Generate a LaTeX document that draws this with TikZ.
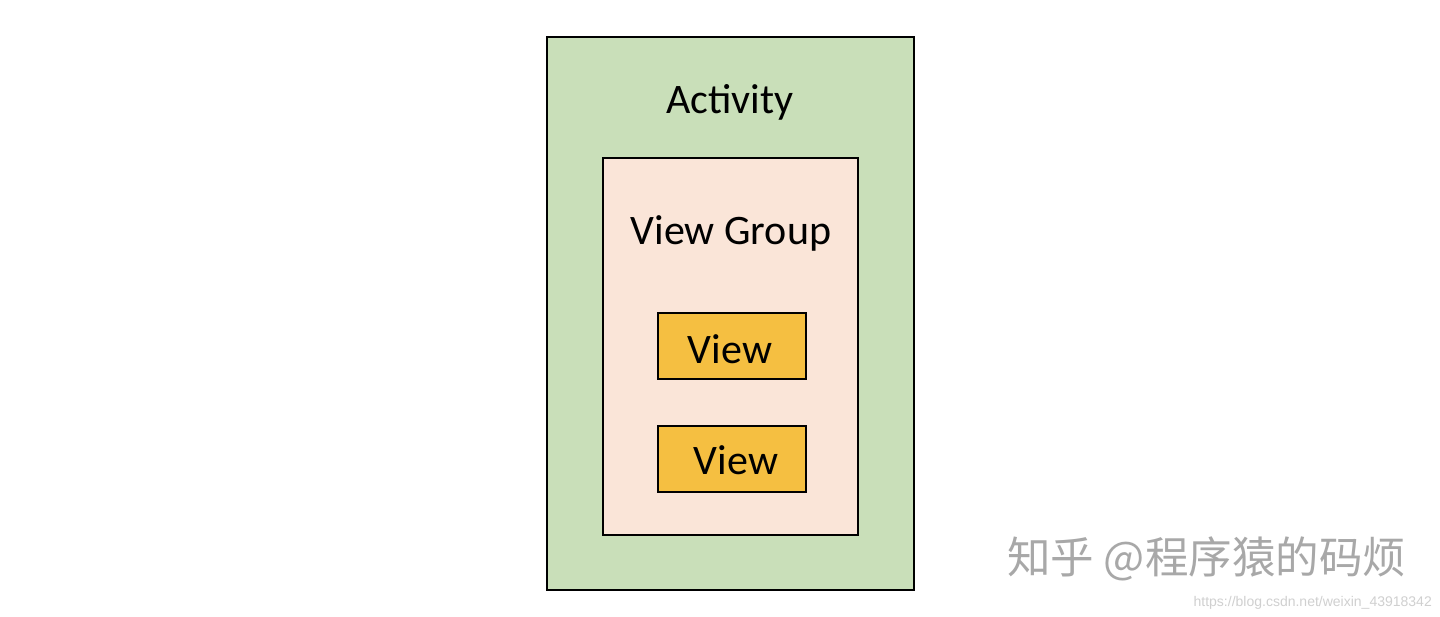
\documentclass[tikz,border=0pt]{standalone}
\usepackage{fontspec}
\setmainfont{Carlito}
\newfontfamily\cjk{Noto Sans CJK SC}
\newfontfamily\urlfont{Liberation Sans}
\definecolor{actgreen}{HTML}{C9DFB9}
\definecolor{grppeach}{HTML}{FAE5D8}
\definecolor{viewyellow}{HTML}{F5BF41}
\definecolor{wmgray}{HTML}{A8A8A8}
\definecolor{urlgray}{HTML}{D0D0D0}
\begin{document}
\begin{tikzpicture}[x=1pt,y=-1pt,
  boxstyle/.style={draw=black,line width=1.3pt},
  labelstyle/.style={font=\fontsize{42}{48}\selectfont,anchor=base,inner sep=0pt}]
\useasboundingbox (0,0) rectangle (1440,617);
\fill[white] (0,0) rectangle (1440,617);
\draw[boxstyle,fill=actgreen] (547,37) rectangle (914,590);
\draw[boxstyle,fill=grppeach] (603,158) rectangle (858,535);
\draw[boxstyle,fill=viewyellow] (658,313) rectangle (806,379);
\draw[boxstyle,fill=viewyellow] (658,426) rectangle (806,492);
\node[labelstyle] (act) at (730,114) {Activity};
\node[labelstyle] (grp) at (731,245) {View Group};
\node[labelstyle] (v1) at (730,364) {View};
\node[labelstyle] (v2) at (736,474) {View};
\node[font=\cjk\fontsize{43.5}{46}\selectfont,text=wmgray,anchor=base west,inner sep=0pt] (wm) at (1007,573) {知乎 @程序猿的码烦};
\node[font=\urlfont\fontsize{14}{16}\selectfont,text=urlgray,anchor=base east,inner sep=0pt] (url) at (1432,606) {https://blog.csdn.net/weixin\_43918342};
\end{tikzpicture}
\end{document}
